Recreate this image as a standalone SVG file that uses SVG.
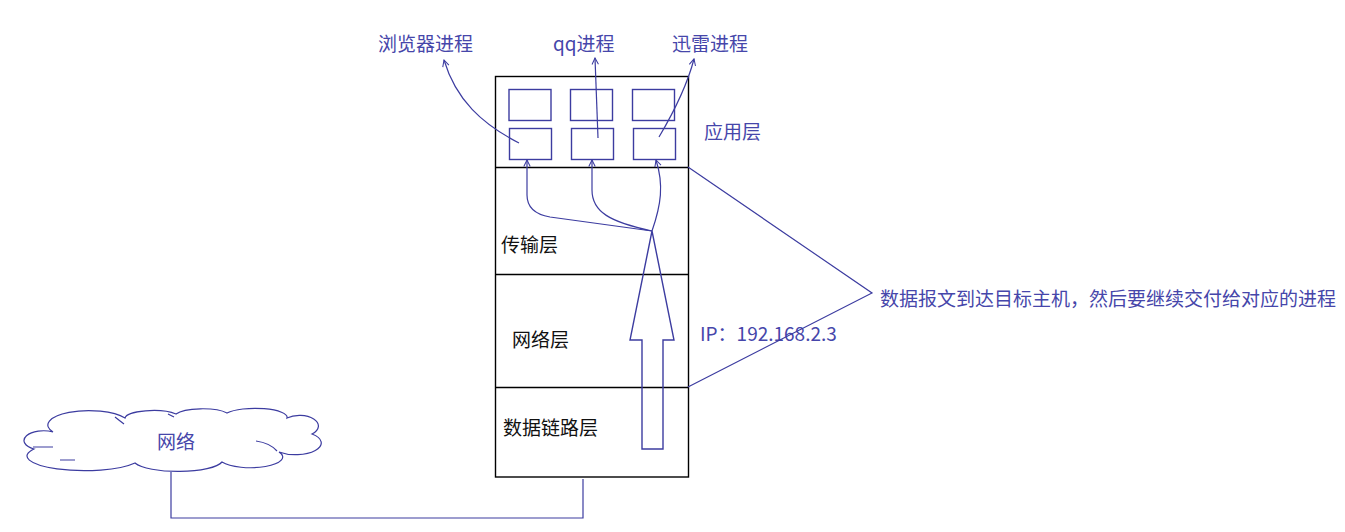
<svg xmlns="http://www.w3.org/2000/svg" width="1345" height="532" viewBox="0 0 1345 532">
<style>
.t{font-family:"Noto Sans CJK SC","Noto Sans",sans-serif;font-size:19px;fill:#4646aa}
.k{font-family:"Noto Sans CJK SC","Noto Sans",sans-serif;font-size:19px;fill:#111}
.box{fill:none;stroke:#000;stroke-width:1.4}
.sb{fill:none;stroke:#3c3ca0;stroke-width:1.4}
.ln{fill:none;stroke:#3c3ca0;stroke-width:1.2}
</style>
<defs>
<marker id="ah" viewBox="0 0 10 10" refX="9" refY="5" markerWidth="8" markerHeight="8" markerUnits="userSpaceOnUse" orient="auto">
<path d="M1,1 L9,5 L1,9" fill="none" stroke="#3c3ca0" stroke-width="1.3"/>
</marker>
</defs>
<rect width="1345" height="532" fill="#fff"/>

<g id="host">
<rect class="box" x="495.5" y="76.5" width="193" height="400.5"/>
<line class="box" x1="495.5" y1="167.5" x2="688.5" y2="167.5"/>
<line class="box" x1="495.5" y1="274.5" x2="688.5" y2="274.5"/>
<line class="box" x1="495.5" y1="387.5" x2="688.5" y2="387.5"/>
</g>

<g id="app-layer">
<rect class="sb" x="509" y="89.5" width="42" height="31"/>
<rect class="sb" x="570.5" y="89.5" width="42" height="31"/>
<rect class="sb" x="632.5" y="89.5" width="42" height="31"/>
<rect class="sb" x="509.5" y="128.5" width="42" height="31"/>
<rect class="sb" x="571.5" y="128.5" width="42" height="31"/>
<rect class="sb" x="633.5" y="128.5" width="42" height="31"/>
<text class="t" x="704" y="139">应用层</text>
</g>
<g id="transport-layer"><text class="k" x="501" y="252">传输层</text></g>
<g id="network-layer"><text class="k" x="512" y="347">网络层</text></g>
<g id="link-layer"><text class="k" x="503" y="435">数据链路层</text></g>

<g id="proc-browser"><text class="t" x="378" y="51">浏览器进程</text></g>
<g id="proc-qq"><text class="t" x="553" y="51">qq进程</text></g>
<g id="proc-xunlei"><text class="t" x="672" y="51">迅雷进程</text></g>

<g id="ip-label"><text class="t" x="700" y="341">IP：192.168.2.3</text></g>
<g id="note"><text class="t" x="880" y="306">数据报文到达目标主机，然后要继续交付给对应的进程</text></g>

<g id="cloud">
<path class="ln" d="M53,432 A40 14 0 0 1 125,418 A28 8 0 0 1 176,414 A28 8 0 0 1 227,413 A32 9 0 0 1 287,418 A16 9 0 0 1 312,434 A22 10 0 0 1 279,452 A30 10 0 0 1 222,462 A45 12 0 0 1 135,463 A55 14 0 0 1 34,449 A18 9 0 0 1 53,432 Z"/>
<path class="ln" d="M256,441 Q270,443 277,451 M33,447 L53,447 M60,460 L75,460 M115,417 Q120,421 124,424 M168,414 L174,417"/>
<text class="t" x="157" y="449">网络</text>
</g>

<g id="connectors">
<path class="ln" d="M171,472 L171,518 L583,518 L583,479"/>
<path class="ln" d="M688,167 L872,293 L688,387"/>
<path class="ln" marker-end="url(#ah)" d="M519,143 C482,124 456,100 444,60"/>
<path class="ln" marker-end="url(#ah)" d="M598,138 L595,58"/>
<path class="ln" marker-end="url(#ah)" d="M659,137 C675,110 688,82 694,59"/>
<path class="ln" marker-end="url(#ah)" d="M652,231 L550,217 Q527,213 527,195 L527,160"/>
<path class="ln" marker-end="url(#ah)" d="M652,231 C610,222 592,212 592,190 L592,160"/>
<path class="ln" marker-end="url(#ah)" d="M652,231 C661,205 664,185 656,160"/>
<path class="sb" d="M652,231 L674,340 L663,340 L663,449 L642,449 L642,340 L630,340 Z"/>
</g>
</svg>
